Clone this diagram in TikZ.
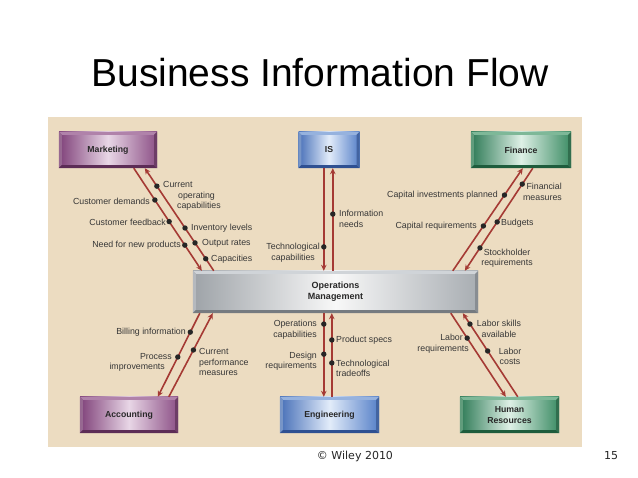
\documentclass[tikz,border=0pt]{standalone}
\usepackage{fontspec}
\setmainfont{Liberation Sans}
\newfontfamily\footfont{DejaVu Sans}
\usetikzlibrary{arrows.meta}
\definecolor{panel}{RGB}{236,220,193}
\definecolor{flowred}{RGB}{165,58,52}
\definecolor{labelgray}{RGB}{55,55,55}
\definecolor{boxtext}{RGB}{40,40,40}
% purple
\definecolor{puL}{RGB}{128,66,122}
\definecolor{puM}{RGB}{232,214,230}
\definecolor{puR}{RGB}{140,80,134}
\definecolor{puT}{RGB}{176,130,170}
\definecolor{puB}{RGB}{92,44,86}
% blue
\definecolor{blL}{RGB}{72,112,184}
\definecolor{blM}{RGB}{226,236,250}
\definecolor{blR}{RGB}{86,128,200}
\definecolor{blT}{RGB}{150,178,222}
\definecolor{blB}{RGB}{46,80,146}
% green
\definecolor{grL}{RGB}{46,122,86}
\definecolor{grM}{RGB}{222,240,230}
\definecolor{grR}{RGB}{60,140,100}
\definecolor{grT}{RGB}{126,184,152}
\definecolor{grB}{RGB}{30,92,60}
% gray
\definecolor{gyL}{RGB}{158,163,168}
\definecolor{gyM}{RGB}{248,248,248}
\definecolor{gyR}{RGB}{168,173,178}
\definecolor{gyT}{RGB}{208,212,216}
\definecolor{gyB}{RGB}{118,123,128}
\newcommand{\unitbevel}[3]{%
  \fill[#2] (#1.north west) -- (#1.north east) -- ([shift={(-3pt,-3pt)}]#1.north east) -- ([shift={(3pt,-3pt)}]#1.north west) -- cycle;
  \fill[#2!70!#3] (#1.north west) -- ([shift={(3pt,-3pt)}]#1.north west) -- ([shift={(3pt,3pt)}]#1.south west) -- (#1.south west) -- cycle;
  \fill[#3] (#1.south west) -- (#1.south east) -- ([shift={(-3pt,3pt)}]#1.south east) -- ([shift={(3pt,3pt)}]#1.south west) -- cycle;
  \fill[#3!80!#2] (#1.north east) -- ([shift={(-3pt,-3pt)}]#1.north east) -- ([shift={(-3pt,3pt)}]#1.south east) -- (#1.south east) -- cycle;
}
\begin{document}
\begin{tikzpicture}[x=1pt,y=-1pt,
  unitbox/.style={rectangle, inner sep=0pt, minimum height=36pt, align=center,
    font=\bfseries\fontsize{8.7}{10.5}\selectfont, text=boxtext},
  purplebox/.style={unitbox, left color=puL, right color=puR, middle color=puM},
  bluebox/.style={unitbox, left color=blL, right color=blR, middle color=blM},
  greenbox/.style={unitbox, left color=grL, right color=grR, middle color=grM},
  graybox/.style={unitbox, left color=gyL, right color=gyR, middle color=gyM},
  lbl/.style={inner sep=0pt, font=\fontsize{8.8}{10.5}\selectfont, text=labelgray},
  flow/.style={draw=flowred, line width=1.6pt, -{Stealth[length=6pt,width=5.5pt]}},
  bullet/.style={circle, fill=black!85, inner sep=0pt, minimum size=5.4pt}]
\useasboundingbox (0,0) rectangle (638,478);
\fill[white] (0,0) rectangle (638,478);
\fill[panel] (48,117) rectangle (582,447);

% title and footer
\node[font=\fontsize{39}{47}\selectfont, anchor=base, inner sep=0pt] (title) at (320,87) {Business Information Flow};
\node[font=\footfont\fontsize{11}{13}\selectfont, text=black!85, inner sep=0pt] (copy) at (355,456) {© Wiley 2010};
\node[font=\footfont\fontsize{11}{13}\selectfont, text=black!85, inner sep=0pt] (pnum) at (611,456) {15};

% units
\node[purplebox, minimum width=98pt] (mkt) at (108,150) {Marketing};
\unitbevel{mkt}{puT}{puB}
\node[bluebox, minimum width=61pt] (is) at (329,150) {IS};
\unitbevel{is}{blT}{blB}
\node[greenbox, minimum width=100pt] (fin) at (521,150) {Finance};
\unitbevel{fin}{grT}{grB}
\node[graybox, minimum width=285pt, minimum height=42pt, font=\bfseries\fontsize{9}{11}\selectfont] (ops) at (335.5,292) {Operations\\Management};
\unitbevel{ops}{gyT}{gyB}
\node[purplebox, minimum width=98pt] (acc) at (129,415) {Accounting};
\unitbevel{acc}{puT}{puB}
\node[bluebox, minimum width=99pt] (eng) at (329.5,415) {Engineering};
\unitbevel{eng}{blT}{blB}
\node[greenbox, minimum width=99pt] (hr) at (509.5,415) {Human\\Resources};
\unitbevel{hr}{grT}{grB}

% Marketing flows
\draw[flow] ([xshift=75pt]mkt.south west) -- ([xshift=9pt]ops.north west)
  node[bullet,pos=0.31](dcd){} node[bullet,pos=0.52](dcf){} node[bullet,pos=0.75](dnp){};
\draw[flow] ([xshift=21pt]ops.north west) -- ([xshift=86pt]mkt.south west)
  node[bullet,pos=0.825](dcoc){} node[bullet,pos=0.417](dinv){} node[bullet,pos=0.272](dout){} node[bullet,pos=0.117](dcap){};
% IS flows
\draw[flow] ([xshift=25.5pt]is.south west) -- ([xshift=131pt]ops.north west) node[bullet,pos=0.767](dtc){};
\draw[flow] ([xshift=140pt]ops.north west) -- ([xshift=34.5pt]is.south west) node[bullet,pos=0.553](din){};
% Finance flows
\draw[flow] ([xshift=260pt]ops.north west) -- ([xshift=52pt]fin.south west)
  node[bullet,pos=0.738](dcip){} node[bullet,pos=0.437](dcr){};
\draw[flow] ([xshift=62pt]fin.south west) -- ([xshift=272pt]ops.north west)
  node[bullet,pos=0.155](dfm){} node[bullet,pos=0.524](dbud){} node[bullet,pos=0.777](dsh){};
% Accounting flows
\draw[flow] ([xshift=7pt]ops.south west) -- ([xshift=78pt]acc.north west)
  node[bullet,pos=0.226](dbi){} node[bullet,pos=0.524](dpi){};
\draw[flow] ([xshift=89pt]acc.north west) -- ([xshift=20pt]ops.south west) node[bullet,pos=0.56](dcpm){};
% Engineering flows
\draw[flow] ([xshift=131pt]ops.south west) -- ([xshift=44pt]eng.north west)
  node[bullet,pos=0.13](doc){} node[bullet,pos=0.49](ddr){};
\draw[flow] ([xshift=52pt]eng.north west) -- ([xshift=139pt]ops.south west)
  node[bullet,pos=0.68](dps){} node[bullet,pos=0.405](dtt){};
% HR flows
\draw[flow] ([xshift=258pt]ops.south west) -- ([xshift=46pt]hr.north west) node[bullet,pos=0.298](dlr){};
\draw[flow] ([xshift=58pt]hr.north west) -- ([xshift=270pt]ops.south west)
  node[bullet,pos=0.87](dls){} node[bullet,pos=0.548](dlc){};

% labels
\node[lbl,anchor=east] (tcd) at (150,201) {Customer demands};
\node[lbl,anchor=east] (tcf) at (166,222) {Customer feedback};
\node[lbl,anchor=east] (tnp) at (181,245) {Need for new products};
\node[lbl,anchor=west,align=left] (tcoc) at (163,196) {Current\\\hspace*{15pt}operating\\\hspace*{14pt}capabilities};
\node[lbl,anchor=west] (tinv) at (191,228) {Inventory levels};
\node[lbl,anchor=west] (tout) at (202,243) {Output rates};
\node[lbl,anchor=west] (tcap) at (211,259) {Capacities};
\node[lbl,anchor=east,align=center] (ttc) at (320,252.5) {Technological\\capabilities};
\node[lbl,anchor=west,align=left] (tin) at (339,219) {Information\\needs};
\node[lbl,anchor=east] (tcip) at (498,195) {Capital investments planned};
\node[lbl,anchor=east] (tcr) at (477,226) {Capital requirements};
\node[lbl,anchor=east,align=right] (tfm) at (562,192) {Financial\\measures};
\node[lbl,anchor=west] (tbud) at (501,223) {Budgets};
\node[lbl,align=center] (tsh) at (507,258) {Stockholder\\requirements};
\node[lbl,anchor=east] (tbi) at (186,332) {Billing information};
\node[lbl,anchor=east,align=right] (tpi) at (172,362.5) {Process\\improvements\kern7pt};
\node[lbl,anchor=west,align=left] (tcpm) at (199,362) {Current\\performance\\measures};
\node[lbl,anchor=east,align=right] (toc) at (317,329.5) {Operations\\capabilities};
\node[lbl,anchor=east,align=right] (tdr) at (317,361) {Design\\requirements};
\node[lbl,anchor=west] (tps) at (336,340) {Product specs};
\node[lbl,anchor=west,align=left] (ttt) at (336,368.5) {Technological\\tradeoffs};
\node[lbl,anchor=east,align=right] (tlr) at (469,343.5) {Labor\kern6pt\\requirements};
\node[lbl,align=center] (tls) at (499,329) {Labor skills\\available};
\node[lbl,align=center] (tlc) at (510,356.5) {Labor\\costs};
\end{tikzpicture}
\end{document}
